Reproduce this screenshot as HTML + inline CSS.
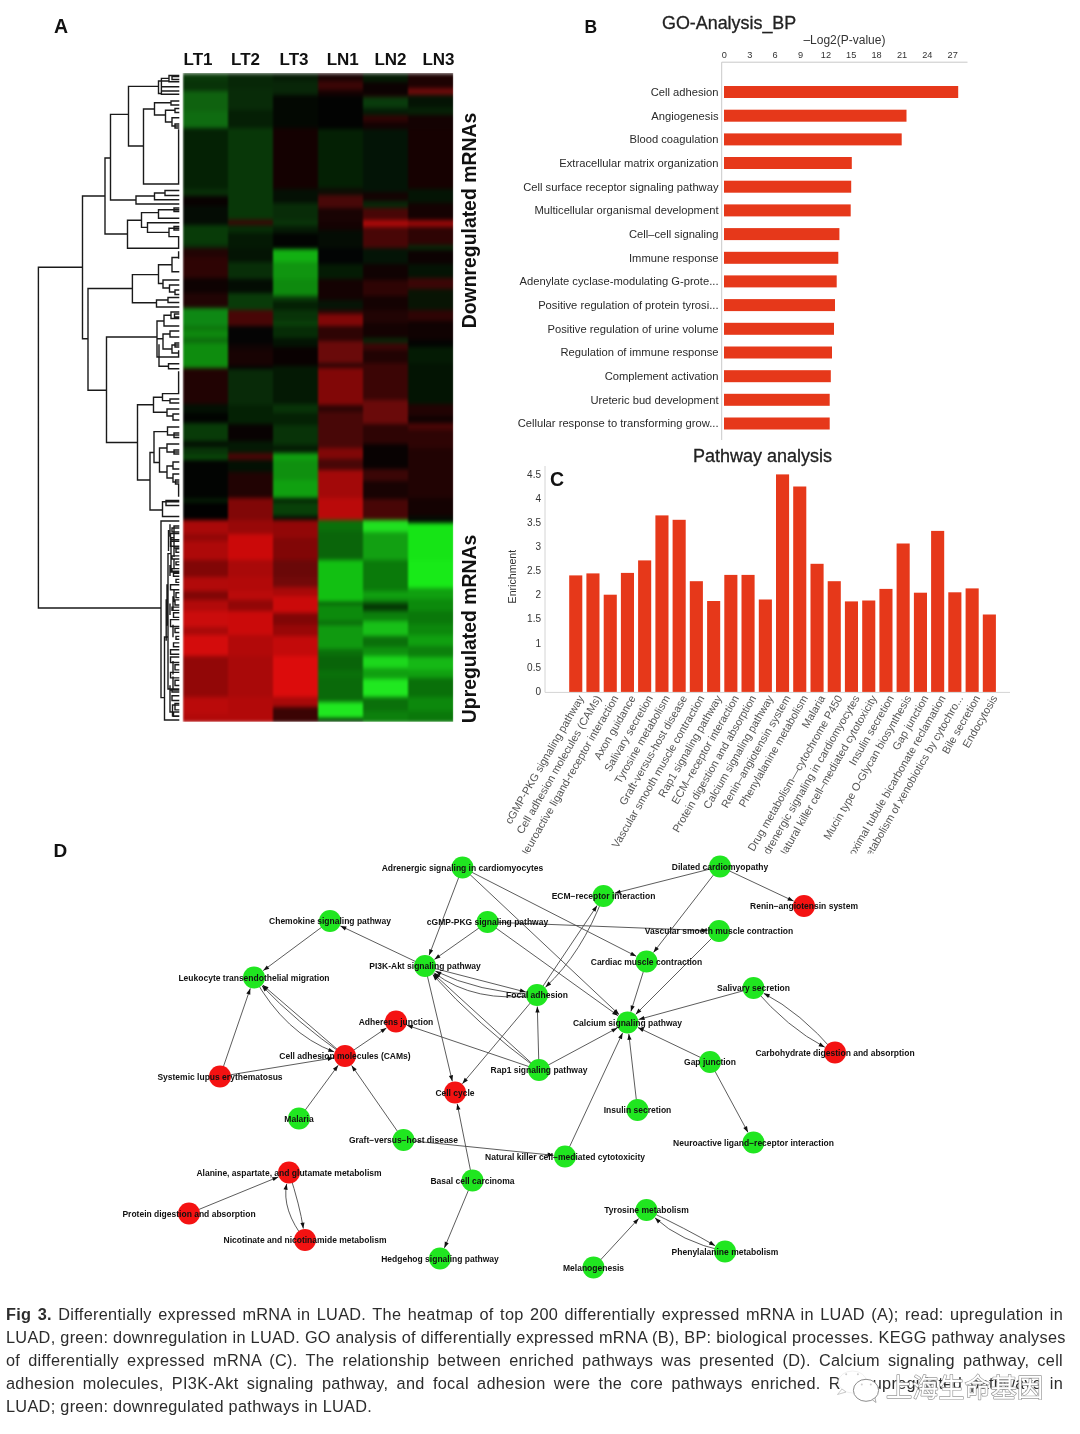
<!DOCTYPE html>
<html><head><meta charset="utf-8"><title>Fig 3</title>
<style>
html,body{margin:0;padding:0;background:#fff}
body{width:1080px;height:1434px;position:relative;overflow:hidden;font-family:"Liberation Sans",sans-serif}
svg{position:absolute;left:0;top:0;display:block}
.cap{position:absolute;left:6px;top:1302.5px;width:1057px;font-size:16.3px;line-height:23.1px;color:#2c2c2c;letter-spacing:0.3px}
.cap div{text-align:justify;text-align-last:justify;white-space:nowrap;height:23.1px}
.cap div.last{text-align:left;text-align-last:left}
.wm{position:absolute;left:898px;top:1373px;font-family:"Liberation Sans","Noto Sans CJK SC",sans-serif;font-size:25px;line-height:30px;color:#fff;letter-spacing:0.5px;white-space:nowrap;
 text-shadow:0 0 1px #777,0 0 1px #777,1px 1px 1px #888,-1px -1px 1px #999}
</style></head><body>
<svg width="1080" height="1434" viewBox="0 0 1080 1434">
<defs><filter id="hb" x="-2%" y="-1%" width="104%" height="102%" color-interpolation-filters="sRGB"><feGaussianBlur stdDeviation="0.8 2.2"/></filter>
<clipPath id="hc"><rect x="182.5" y="73" width="270.7" height="648.7"/></clipPath>
<clipPath id="cc"><rect x="490" y="440" width="590" height="413.5"/></clipPath></defs>
<rect width="1080" height="1434" fill="#fff"/>

<g clip-path="url(#hc)"><g filter="url(#hb)" shape-rendering="crispEdges">
<rect x="182.5" y="73.0" width="45.9" height="7.8" fill="#0a3b0a"/>
<rect x="182.5" y="80.0" width="45.9" height="11.3" fill="#083308"/>
<rect x="182.5" y="90.5" width="45.9" height="21.3" fill="#0f620f"/>
<rect x="182.5" y="111.0" width="45.9" height="17.8" fill="#0f6c11"/>
<rect x="182.5" y="128.0" width="45.9" height="61.8" fill="#042104"/>
<rect x="182.5" y="189.0" width="45.9" height="7.8" fill="#082e08"/>
<rect x="182.5" y="196.0" width="45.9" height="10.3" fill="#080101"/>
<rect x="182.5" y="205.5" width="45.9" height="20.3" fill="#040c04"/>
<rect x="182.5" y="225.0" width="45.9" height="19.8" fill="#083b08"/>
<rect x="182.5" y="244.0" width="45.9" height="4.8" fill="#082e08"/>
<rect x="182.5" y="248.0" width="45.9" height="9.8" fill="#210404"/>
<rect x="182.5" y="257.0" width="45.9" height="21.3" fill="#2e0404"/>
<rect x="182.5" y="277.5" width="45.9" height="16.3" fill="#0e0202"/>
<rect x="182.5" y="293.0" width="45.9" height="15.8" fill="#210404"/>
<rect x="182.5" y="308.0" width="45.9" height="18.8" fill="#0e8814"/>
<rect x="182.5" y="326.0" width="45.9" height="4.8" fill="#0c740c"/>
<rect x="182.5" y="330.0" width="45.9" height="8.8" fill="#0e880e"/>
<rect x="182.5" y="338.0" width="45.9" height="5.3" fill="#0c6c0c"/>
<rect x="182.5" y="342.5" width="45.9" height="25.8" fill="#0e8c0e"/>
<rect x="182.5" y="367.5" width="45.9" height="36.8" fill="#210303"/>
<rect x="182.5" y="403.5" width="45.9" height="10.3" fill="#031003"/>
<rect x="182.5" y="413.0" width="45.9" height="10.8" fill="#010301"/>
<rect x="182.5" y="423.0" width="45.9" height="18.8" fill="#083b08"/>
<rect x="182.5" y="441.0" width="45.9" height="6.3" fill="#031003"/>
<rect x="182.5" y="446.5" width="45.9" height="9.3" fill="#083308"/>
<rect x="182.5" y="455.0" width="45.9" height="5.8" fill="#094809"/>
<rect x="182.5" y="460.0" width="45.9" height="39.8" fill="#020402"/>
<rect x="182.5" y="499.0" width="45.9" height="3.8" fill="#062606"/>
<rect x="182.5" y="502.0" width="45.9" height="18.3" fill="#010101"/>
<rect x="182.5" y="519.5" width="45.9" height="14.8" fill="#a90909"/>
<rect x="182.5" y="533.5" width="45.9" height="7.8" fill="#920707"/>
<rect x="182.5" y="540.5" width="45.9" height="20.3" fill="#ae0909"/>
<rect x="182.5" y="560.0" width="45.9" height="17.3" fill="#810606"/>
<rect x="182.5" y="576.5" width="45.9" height="14.8" fill="#b20a0a"/>
<rect x="182.5" y="590.5" width="45.9" height="10.3" fill="#810606"/>
<rect x="182.5" y="600.0" width="45.9" height="11.8" fill="#b20a0a"/>
<rect x="182.5" y="611.0" width="45.9" height="16.3" fill="#cb0c0c"/>
<rect x="182.5" y="626.5" width="45.9" height="8.8" fill="#a90909"/>
<rect x="182.5" y="634.5" width="45.9" height="21.8" fill="#d40c0c"/>
<rect x="182.5" y="655.5" width="45.9" height="42.3" fill="#920707"/>
<rect x="182.5" y="697.0" width="45.9" height="17.8" fill="#ba0a0a"/>
<rect x="182.5" y="714.0" width="45.9" height="8.5" fill="#b20909"/>
<rect x="227.6" y="73.0" width="45.9" height="15.8" fill="#072707"/>
<rect x="227.6" y="88.0" width="45.9" height="22.8" fill="#082b08"/>
<rect x="227.6" y="110.0" width="45.9" height="18.8" fill="#051f05"/>
<rect x="227.6" y="128.0" width="45.9" height="91.8" fill="#083708"/>
<rect x="227.6" y="219.0" width="45.9" height="2.8" fill="#211906"/>
<rect x="227.6" y="221.0" width="45.9" height="4.8" fill="#3b0606"/>
<rect x="227.6" y="225.0" width="45.9" height="8.8" fill="#062c06"/>
<rect x="227.6" y="233.0" width="45.9" height="15.8" fill="#041904"/>
<rect x="227.6" y="248.0" width="45.9" height="14.8" fill="#041404"/>
<rect x="227.6" y="262.0" width="45.9" height="17.8" fill="#082e08"/>
<rect x="227.6" y="279.0" width="45.9" height="14.8" fill="#030c03"/>
<rect x="227.6" y="293.0" width="45.9" height="17.3" fill="#093b09"/>
<rect x="227.6" y="309.5" width="45.9" height="17.3" fill="#480606"/>
<rect x="227.6" y="326.0" width="45.9" height="18.8" fill="#040404"/>
<rect x="227.6" y="344.0" width="45.9" height="6.3" fill="#100404"/>
<rect x="227.6" y="349.5" width="45.9" height="17.3" fill="#180303"/>
<rect x="227.6" y="366.0" width="45.9" height="3.8" fill="#020202"/>
<rect x="227.6" y="369.0" width="45.9" height="36.8" fill="#082a08"/>
<rect x="227.6" y="405.0" width="45.9" height="19.8" fill="#042104"/>
<rect x="227.6" y="424.0" width="45.9" height="17.8" fill="#080202"/>
<rect x="227.6" y="441.0" width="45.9" height="12.8" fill="#041904"/>
<rect x="227.6" y="453.0" width="45.9" height="7.8" fill="#480606"/>
<rect x="227.6" y="460.0" width="45.9" height="12.3" fill="#031003"/>
<rect x="227.6" y="471.5" width="45.9" height="27.3" fill="#210303"/>
<rect x="227.6" y="498.0" width="45.9" height="22.3" fill="#810707"/>
<rect x="227.6" y="519.5" width="45.9" height="14.8" fill="#980808"/>
<rect x="227.6" y="533.5" width="45.9" height="27.3" fill="#cb0909"/>
<rect x="227.6" y="560.0" width="45.9" height="17.3" fill="#a90909"/>
<rect x="227.6" y="576.5" width="45.9" height="14.8" fill="#b20909"/>
<rect x="227.6" y="590.5" width="45.9" height="10.3" fill="#ba0a0a"/>
<rect x="227.6" y="600.0" width="45.9" height="11.8" fill="#920707"/>
<rect x="227.6" y="611.0" width="45.9" height="24.3" fill="#cb0a0a"/>
<rect x="227.6" y="634.5" width="45.9" height="21.8" fill="#b20909"/>
<rect x="227.6" y="655.5" width="45.9" height="42.3" fill="#a90909"/>
<rect x="227.6" y="697.0" width="45.9" height="25.5" fill="#b20909"/>
<rect x="272.7" y="73.0" width="45.9" height="8.8" fill="#051c05"/>
<rect x="272.7" y="81.0" width="45.9" height="14.8" fill="#082608"/>
<rect x="272.7" y="95.0" width="45.9" height="33.8" fill="#030802"/>
<rect x="272.7" y="128.0" width="45.9" height="61.8" fill="#140101"/>
<rect x="272.7" y="189.0" width="45.9" height="14.8" fill="#041004"/>
<rect x="272.7" y="203.0" width="45.9" height="17.3" fill="#082c08"/>
<rect x="272.7" y="219.5" width="45.9" height="7.3" fill="#093309"/>
<rect x="272.7" y="226.0" width="45.9" height="7.8" fill="#051b05"/>
<rect x="272.7" y="233.0" width="45.9" height="16.3" fill="#020402"/>
<rect x="272.7" y="248.5" width="45.9" height="14.3" fill="#12b012"/>
<rect x="272.7" y="262.0" width="45.9" height="17.8" fill="#109510"/>
<rect x="272.7" y="279.0" width="45.9" height="17.3" fill="#0e8a0e"/>
<rect x="272.7" y="295.5" width="45.9" height="6.3" fill="#083b08"/>
<rect x="272.7" y="301.0" width="45.9" height="9.3" fill="#042004"/>
<rect x="272.7" y="309.5" width="45.9" height="11.8" fill="#083308"/>
<rect x="272.7" y="320.5" width="45.9" height="6.3" fill="#094009"/>
<rect x="272.7" y="326.0" width="45.9" height="12.8" fill="#062c06"/>
<rect x="272.7" y="338.0" width="45.9" height="9.3" fill="#031303"/>
<rect x="272.7" y="346.5" width="45.9" height="20.3" fill="#090101"/>
<rect x="272.7" y="366.0" width="45.9" height="38.3" fill="#041904"/>
<rect x="272.7" y="403.5" width="45.9" height="10.3" fill="#083308"/>
<rect x="272.7" y="413.0" width="45.9" height="12.3" fill="#042104"/>
<rect x="272.7" y="424.5" width="45.9" height="21.3" fill="#083308"/>
<rect x="272.7" y="445.0" width="45.9" height="8.8" fill="#041d04"/>
<rect x="272.7" y="453.0" width="45.9" height="7.8" fill="#10a010"/>
<rect x="272.7" y="460.0" width="45.9" height="20.8" fill="#0f900f"/>
<rect x="272.7" y="480.0" width="45.9" height="18.8" fill="#10a010"/>
<rect x="272.7" y="498.0" width="45.9" height="4.8" fill="#042004"/>
<rect x="272.7" y="502.0" width="45.9" height="14.8" fill="#084008"/>
<rect x="272.7" y="516.0" width="45.9" height="4.3" fill="#030c03"/>
<rect x="272.7" y="519.5" width="45.9" height="19.3" fill="#920707"/>
<rect x="272.7" y="538.0" width="45.9" height="22.8" fill="#810606"/>
<rect x="272.7" y="560.0" width="45.9" height="17.3" fill="#6a0808"/>
<rect x="272.7" y="576.5" width="45.9" height="10.8" fill="#720909"/>
<rect x="272.7" y="586.5" width="45.9" height="10.3" fill="#a90909"/>
<rect x="272.7" y="596.0" width="45.9" height="17.3" fill="#cb0a0a"/>
<rect x="272.7" y="612.5" width="45.9" height="13.3" fill="#810606"/>
<rect x="272.7" y="625.0" width="45.9" height="11.8" fill="#980707"/>
<rect x="272.7" y="636.0" width="45.9" height="20.3" fill="#c30a0a"/>
<rect x="272.7" y="655.5" width="45.9" height="42.3" fill="#dc0c0c"/>
<rect x="272.7" y="697.0" width="45.9" height="10.8" fill="#a90909"/>
<rect x="272.7" y="707.0" width="45.9" height="15.5" fill="#3b0404"/>
<rect x="317.9" y="73.0" width="45.9" height="8.8" fill="#190303"/>
<rect x="317.9" y="81.0" width="45.9" height="9.8" fill="#3b0606"/>
<rect x="317.9" y="90.0" width="45.9" height="6.8" fill="#140202"/>
<rect x="317.9" y="96.0" width="45.9" height="33.8" fill="#020302"/>
<rect x="317.9" y="129.0" width="45.9" height="59.3" fill="#042004"/>
<rect x="317.9" y="187.5" width="45.9" height="7.8" fill="#0c0c04"/>
<rect x="317.9" y="194.5" width="45.9" height="14.3" fill="#480808"/>
<rect x="317.9" y="208.0" width="45.9" height="14.8" fill="#190303"/>
<rect x="317.9" y="222.0" width="45.9" height="8.8" fill="#140202"/>
<rect x="317.9" y="230.0" width="45.9" height="18.8" fill="#040c04"/>
<rect x="317.9" y="248.0" width="45.9" height="16.3" fill="#020404"/>
<rect x="317.9" y="263.5" width="45.9" height="16.3" fill="#041b04"/>
<rect x="317.9" y="279.0" width="45.9" height="21.8" fill="#140202"/>
<rect x="317.9" y="300.0" width="45.9" height="10.3" fill="#061406"/>
<rect x="317.9" y="309.5" width="45.9" height="4.8" fill="#2e0404"/>
<rect x="317.9" y="313.5" width="45.9" height="13.3" fill="#810707"/>
<rect x="317.9" y="326.0" width="45.9" height="15.8" fill="#2e0404"/>
<rect x="317.9" y="341.0" width="45.9" height="22.8" fill="#6a0a0a"/>
<rect x="317.9" y="363.0" width="45.9" height="5.3" fill="#2e0404"/>
<rect x="317.9" y="367.5" width="45.9" height="38.3" fill="#810707"/>
<rect x="317.9" y="405.0" width="45.9" height="7.8" fill="#2e0404"/>
<rect x="317.9" y="412.0" width="45.9" height="36.8" fill="#480707"/>
<rect x="317.9" y="448.0" width="45.9" height="11.8" fill="#810707"/>
<rect x="317.9" y="459.0" width="45.9" height="11.8" fill="#480707"/>
<rect x="317.9" y="470.0" width="45.9" height="28.8" fill="#a30909"/>
<rect x="317.9" y="498.0" width="45.9" height="22.3" fill="#ba0a0a"/>
<rect x="317.9" y="519.5" width="45.9" height="12.3" fill="#0a700a"/>
<rect x="317.9" y="531.0" width="45.9" height="29.8" fill="#0a650a"/>
<rect x="317.9" y="560.0" width="45.9" height="42.3" fill="#12c012"/>
<rect x="317.9" y="601.5" width="45.9" height="3.3" fill="#043b04"/>
<rect x="317.9" y="604.0" width="45.9" height="17.8" fill="#0c8a0c"/>
<rect x="317.9" y="621.0" width="45.9" height="4.8" fill="#0a6a0a"/>
<rect x="317.9" y="625.0" width="45.9" height="24.3" fill="#109a10"/>
<rect x="317.9" y="648.5" width="45.9" height="7.8" fill="#0a700a"/>
<rect x="317.9" y="655.5" width="45.9" height="14.8" fill="#096409"/>
<rect x="317.9" y="669.5" width="45.9" height="9.3" fill="#0a700a"/>
<rect x="317.9" y="678.0" width="45.9" height="19.8" fill="#0a6a0a"/>
<rect x="317.9" y="697.0" width="45.9" height="5.3" fill="#0a6a0a"/>
<rect x="317.9" y="701.5" width="45.9" height="17.3" fill="#20e820"/>
<rect x="317.9" y="718.0" width="45.9" height="4.5" fill="#084008"/>
<rect x="363.0" y="73.0" width="45.9" height="9.8" fill="#041b04"/>
<rect x="363.0" y="82.0" width="45.9" height="13.8" fill="#0c0202"/>
<rect x="363.0" y="95.0" width="45.9" height="2.8" fill="#210404"/>
<rect x="363.0" y="97.0" width="45.9" height="11.8" fill="#093b0c"/>
<rect x="363.0" y="108.0" width="45.9" height="7.8" fill="#041c06"/>
<rect x="363.0" y="115.0" width="45.9" height="7.8" fill="#2e0404"/>
<rect x="363.0" y="122.0" width="45.9" height="7.8" fill="#140202"/>
<rect x="363.0" y="129.0" width="45.9" height="63.8" fill="#031406"/>
<rect x="363.0" y="192.0" width="45.9" height="9.8" fill="#140303"/>
<rect x="363.0" y="201.0" width="45.9" height="7.8" fill="#082608"/>
<rect x="363.0" y="208.0" width="45.9" height="12.3" fill="#480606"/>
<rect x="363.0" y="219.5" width="45.9" height="7.8" fill="#a90909"/>
<rect x="363.0" y="226.5" width="45.9" height="18.8" fill="#480606"/>
<rect x="363.0" y="244.5" width="45.9" height="4.3" fill="#480606"/>
<rect x="363.0" y="248.0" width="45.9" height="16.3" fill="#041406"/>
<rect x="363.0" y="263.5" width="45.9" height="17.3" fill="#100202"/>
<rect x="363.0" y="280.0" width="45.9" height="16.3" fill="#2e0404"/>
<rect x="363.0" y="295.5" width="45.9" height="14.8" fill="#140202"/>
<rect x="363.0" y="309.5" width="45.9" height="14.3" fill="#210404"/>
<rect x="363.0" y="323.0" width="45.9" height="15.8" fill="#140202"/>
<rect x="363.0" y="338.0" width="45.9" height="5.3" fill="#082608"/>
<rect x="363.0" y="342.5" width="45.9" height="7.8" fill="#3b0606"/>
<rect x="363.0" y="349.5" width="45.9" height="14.3" fill="#210303"/>
<rect x="363.0" y="363.0" width="45.9" height="37.3" fill="#3b0505"/>
<rect x="363.0" y="399.5" width="45.9" height="25.3" fill="#6a0a0a"/>
<rect x="363.0" y="424.0" width="45.9" height="20.3" fill="#2e0404"/>
<rect x="363.0" y="443.5" width="45.9" height="25.8" fill="#080202"/>
<rect x="363.0" y="468.5" width="45.9" height="13.3" fill="#3b0606"/>
<rect x="363.0" y="481.0" width="45.9" height="18.8" fill="#180303"/>
<rect x="363.0" y="499.0" width="45.9" height="21.3" fill="#480606"/>
<rect x="363.0" y="519.5" width="45.9" height="13.3" fill="#20e020"/>
<rect x="363.0" y="532.0" width="45.9" height="28.8" fill="#12a012"/>
<rect x="363.0" y="560.0" width="45.9" height="31.3" fill="#0a7a0a"/>
<rect x="363.0" y="590.5" width="45.9" height="9.3" fill="#10a010"/>
<rect x="363.0" y="599.0" width="45.9" height="4.8" fill="#0c800c"/>
<rect x="363.0" y="603.0" width="45.9" height="8.8" fill="#043904"/>
<rect x="363.0" y="611.0" width="45.9" height="10.8" fill="#0c800c"/>
<rect x="363.0" y="621.0" width="45.9" height="15.8" fill="#18c018"/>
<rect x="363.0" y="636.0" width="45.9" height="11.8" fill="#0a700a"/>
<rect x="363.0" y="647.0" width="45.9" height="9.3" fill="#0e900e"/>
<rect x="363.0" y="655.5" width="45.9" height="13.3" fill="#1cd81c"/>
<rect x="363.0" y="668.0" width="45.9" height="11.8" fill="#10a010"/>
<rect x="363.0" y="679.0" width="45.9" height="18.8" fill="#20e820"/>
<rect x="363.0" y="697.0" width="45.9" height="14.8" fill="#0a700a"/>
<rect x="363.0" y="711.0" width="45.9" height="11.5" fill="#0c800c"/>
<rect x="408.1" y="73.0" width="45.9" height="15.8" fill="#1d0202"/>
<rect x="408.1" y="88.0" width="45.9" height="7.8" fill="#6a0a0a"/>
<rect x="408.1" y="95.0" width="45.9" height="12.8" fill="#041304"/>
<rect x="408.1" y="107.0" width="45.9" height="8.8" fill="#062006"/>
<rect x="408.1" y="115.0" width="45.9" height="14.8" fill="#140202"/>
<rect x="408.1" y="129.0" width="45.9" height="60.8" fill="#160101"/>
<rect x="408.1" y="189.0" width="45.9" height="14.8" fill="#041404"/>
<rect x="408.1" y="203.0" width="45.9" height="17.3" fill="#140202"/>
<rect x="408.1" y="219.5" width="45.9" height="7.8" fill="#920808"/>
<rect x="408.1" y="226.5" width="45.9" height="18.8" fill="#2e0404"/>
<rect x="408.1" y="244.5" width="45.9" height="6.3" fill="#082608"/>
<rect x="408.1" y="250.0" width="45.9" height="14.3" fill="#0c0202"/>
<rect x="408.1" y="263.5" width="45.9" height="14.8" fill="#041304"/>
<rect x="408.1" y="277.5" width="45.9" height="11.8" fill="#3b0606"/>
<rect x="408.1" y="288.5" width="45.9" height="21.8" fill="#081404"/>
<rect x="408.1" y="309.5" width="45.9" height="11.8" fill="#2e0404"/>
<rect x="408.1" y="320.5" width="45.9" height="19.8" fill="#100202"/>
<rect x="408.1" y="339.5" width="45.9" height="7.8" fill="#020402"/>
<rect x="408.1" y="346.5" width="45.9" height="17.3" fill="#041b04"/>
<rect x="408.1" y="363.0" width="45.9" height="41.3" fill="#031403"/>
<rect x="408.1" y="403.5" width="45.9" height="13.3" fill="#210303"/>
<rect x="408.1" y="416.0" width="45.9" height="7.8" fill="#100202"/>
<rect x="408.1" y="423.0" width="45.9" height="7.8" fill="#480606"/>
<rect x="408.1" y="430.0" width="45.9" height="18.8" fill="#2e0404"/>
<rect x="408.1" y="448.0" width="45.9" height="50.8" fill="#210303"/>
<rect x="408.1" y="498.0" width="45.9" height="18.8" fill="#140202"/>
<rect x="408.1" y="516.0" width="45.9" height="7.3" fill="#040c04"/>
<rect x="408.1" y="522.5" width="45.9" height="38.3" fill="#16e416"/>
<rect x="408.1" y="560.0" width="45.9" height="28.8" fill="#18ea18"/>
<rect x="408.1" y="588.0" width="45.9" height="11.8" fill="#10a010"/>
<rect x="408.1" y="599.0" width="45.9" height="12.8" fill="#0c8a0c"/>
<rect x="408.1" y="611.0" width="45.9" height="13.3" fill="#0a780a"/>
<rect x="408.1" y="623.5" width="45.9" height="11.8" fill="#0c880c"/>
<rect x="408.1" y="634.5" width="45.9" height="12.3" fill="#10a010"/>
<rect x="408.1" y="646.0" width="45.9" height="11.8" fill="#0c800c"/>
<rect x="408.1" y="657.0" width="45.9" height="13.3" fill="#15b815"/>
<rect x="408.1" y="669.5" width="45.9" height="9.3" fill="#10a010"/>
<rect x="408.1" y="678.0" width="45.9" height="19.8" fill="#097009"/>
<rect x="408.1" y="697.0" width="45.9" height="14.8" fill="#0c880c"/>
<rect x="408.1" y="711.0" width="45.9" height="11.5" fill="#0a780a"/>
</g></g>
<path d="M38.4 267.2L38.4 608.0 M38.4 267.2L82.5 267.2 M38.4 608.0L161.0 608.0 M82.5 196.0L82.5 338.7 M82.5 196.0L105.0 196.0 M82.5 338.7L88.0 338.7 M105.0 158.0L105.0 234.0 M105.0 158.0L110.5 158.0 M105.0 234.0L127.5 234.0 M110.5 114.4L110.5 200.0 M110.5 114.4L128.5 114.4 M110.5 200.0L136.0 200.0 M128.5 86.4L128.5 146.0 M128.5 86.4L158.5 86.4 M128.5 146.0L143.5 146.0 M143.5 109.0L143.5 184.0 M143.5 109.0L154.5 109.0 M143.5 184.0L178.6 184.0 M178.6 130.0L178.6 184.0 M154.5 102.7L154.5 115.0 M154.5 102.7L171.0 102.7 M154.5 115.0L165.5 115.0 M171.0 101.0L171.0 105.0 M171.0 101.0L178.6 101.0 M171.0 105.0L178.6 105.0 M165.5 110.2L165.5 122.0 M165.5 110.2L175.0 110.2 M165.5 122.0L172.0 122.0 M175.0 108.5L175.0 112.5 M175.0 108.5L178.6 108.5 M175.0 112.5L178.6 112.5 M172.0 117.7L172.0 126.0 M172.0 117.7L178.6 117.7 M172.0 126.0L178.6 126.0 M175.0 124.0L175.0 128.0 M175.0 124.0L178.6 124.0 M175.0 128.0L178.6 128.0 M158.5 81.0L158.5 93.5 M158.5 81.0L169.0 81.0 M158.5 93.5L161.4 93.5 M169.0 75.5L169.0 81.8 M169.0 75.5L178.6 75.5 M169.0 81.8L178.6 81.8 M161.4 78.4L161.4 94.3 M161.4 78.4L169.0 78.4 M161.4 86.8L178.6 86.8 M161.4 91.0L178.6 91.0 M161.4 94.3L178.6 94.3 M172.0 76.5L172.0 79.5 M172.0 76.5L178.6 76.5 M172.0 79.5L178.6 79.5 M136.0 196.0L136.0 204.0 M136.0 196.0L154.5 196.0 M136.0 204.0L178.6 204.0 M154.5 193.0L154.5 199.7 M154.5 193.0L165.0 193.0 M154.5 199.7L178.6 199.7 M165.0 190.5L165.0 195.5 M165.0 190.5L178.6 190.5 M165.0 195.5L178.6 195.5 M127.5 220.3L127.5 248.3 M127.5 220.3L141.5 220.3 M127.5 248.3L178.6 248.3 M141.5 212.6L141.5 227.4 M141.5 212.6L158.5 212.6 M141.5 227.4L147.5 227.4 M158.5 209.8L158.5 218.2 M158.5 209.8L178.6 209.8 M158.5 218.2L178.6 218.2 M174.0 208.0L174.0 211.5 M174.0 208.0L178.6 208.0 M174.0 211.5L178.6 211.5 M147.5 222.7L147.5 232.4 M147.5 222.7L178.6 222.7 M147.5 232.4L169.0 232.4 M169.0 228.2L169.0 236.6 M169.0 228.2L178.6 228.2 M169.0 236.6L178.6 236.6 M174.0 226.5L174.0 230.0 M174.0 226.5L178.6 226.5 M174.0 230.0L178.6 230.0 M178.6 238.0L178.6 248.3 M88.0 288.5L88.0 390.3 M88.0 288.5L132.4 288.5 M88.0 390.3L106.5 390.3 M132.4 274.6L132.4 302.7 M132.4 274.6L158.5 274.6 M132.4 302.7L156.5 302.7 M158.5 264.7L158.5 283.5 M158.5 264.7L172.0 264.7 M158.5 283.5L163.0 283.5 M172.0 257.5L172.0 271.8 M172.0 257.5L178.6 257.5 M172.0 271.8L178.6 271.8 M178.6 252.0L178.6 258.0 M163.0 280.0L163.0 288.0 M163.0 280.0L178.6 280.0 M163.0 288.0L169.5 288.0 M169.5 285.0L169.5 292.0 M169.5 285.0L178.6 285.0 M169.5 292.0L175.0 292.0 M175.0 290.0L175.0 294.5 M175.0 290.0L178.6 290.0 M175.0 294.5L178.6 294.5 M156.5 300.0L156.5 307.0 M156.5 300.0L168.0 300.0 M156.5 307.0L178.6 307.0 M168.0 297.5L168.0 302.5 M168.0 297.5L178.6 297.5 M168.0 302.5L178.6 302.5 M106.5 337.0L106.5 442.5 M106.5 337.0L157.0 337.0 M106.5 442.5L137.5 442.5 M157.0 321.0L157.0 357.0 M159.0 345.0L159.0 366.3 M159.0 366.3L168.5 366.3 M168.5 363.8L168.5 368.8 M168.5 363.8L178.6 363.8 M168.5 368.8L178.6 368.8 M157.0 321.0L164.0 321.0 M164.0 315.3L164.0 326.0 M164.0 315.3L171.0 315.3 M164.0 326.0L178.6 326.0 M171.0 312.0L171.0 318.5 M171.0 312.0L178.6 312.0 M171.0 318.5L178.6 318.5 M174.5 314.0L174.5 317.0 M174.5 314.0L178.6 314.0 M174.5 317.0L178.6 317.0 M157.0 338.7L163.0 338.7 M163.0 334.0L163.0 349.0 M163.0 334.0L170.0 334.0 M163.0 349.0L172.0 349.0 M170.0 331.0L170.0 337.0 M170.0 331.0L178.6 331.0 M170.0 337.0L178.6 337.0 M172.0 345.0L172.0 353.0 M172.0 345.0L178.6 345.0 M172.0 353.0L178.6 353.0 M175.0 343.0L175.0 347.0 M175.0 343.0L178.6 343.0 M175.0 347.0L178.6 347.0 M157.0 357.0L178.6 357.0 M178.6 351.0L178.6 357.0 M178.6 372.0L178.6 393.6 M137.5 404.8L137.5 480.0 M137.5 404.8L153.5 404.8 M137.5 480.0L150.0 480.0 M153.5 397.3L153.5 412.3 M153.5 397.3L162.5 397.3 M153.5 412.3L167.0 412.3 M162.5 393.6L162.5 400.6 M162.5 393.6L178.6 393.6 M162.5 400.6L170.0 400.6 M170.0 399.0L170.0 403.0 M170.0 399.0L178.6 399.0 M170.0 403.0L178.6 403.0 M167.0 409.0L167.0 416.0 M167.0 409.0L178.6 409.0 M167.0 416.0L173.0 416.0 M173.0 414.0L173.0 420.0 M173.0 414.0L178.6 414.0 M173.0 420.0L178.6 420.0 M150.0 452.5L150.0 510.0 M150.0 452.5L154.0 452.5 M150.0 510.0L162.5 510.0 M154.0 431.6L154.0 462.5 M154.0 431.6L167.5 431.6 M154.0 462.5L159.5 462.5 M167.5 427.0L167.5 435.0 M167.5 427.0L178.6 427.0 M167.5 435.0L178.6 435.0 M174.0 433.0L174.0 437.5 M174.0 433.0L178.6 433.0 M174.0 437.5L178.6 437.5 M159.5 448.0L159.5 472.0 M159.5 448.0L167.0 448.0 M159.5 472.0L167.0 472.0 M167.0 444.0L167.0 452.0 M167.0 444.0L178.6 444.0 M167.0 452.0L178.6 452.0 M174.0 450.0L174.0 454.0 M174.0 450.0L178.6 450.0 M174.0 454.0L178.6 454.0 M167.0 466.0L167.0 478.0 M167.0 466.0L173.0 466.0 M167.0 478.0L173.0 478.0 M173.0 462.0L173.0 469.0 M173.0 462.0L178.6 462.0 M173.0 469.0L178.6 469.0 M173.0 474.0L173.0 482.0 M173.0 474.0L178.6 474.0 M173.0 482.0L178.6 482.0 M175.5 480.0L175.5 484.0 M175.5 480.0L178.6 480.0 M175.5 484.0L178.6 484.0 M162.5 501.8L162.5 516.5 M162.5 501.8L178.6 501.8 M162.5 516.5L178.6 516.5 M166.0 500.5L166.0 505.5 M166.0 500.5L178.6 500.5 M166.0 505.5L178.6 505.5 M178.6 484.0L178.6 496.0 M161.0 521.0L161.0 697.6 M161.0 521.0L178.6 521.0 M161.0 697.6L164.5 697.6 M164.5 637.0L164.5 720.0 M164.5 720.0L178.6 720.0 M164.5 637.0L168.0 637.0 M168.0 553.6L168.0 689.0 M168.0 553.6L171.0 553.6 M168.0 689.0L172.0 689.0 M171.0 537.7L171.0 572.0 M171.0 572.0L178.6 572.0 M171.0 537.7L174.0 537.7 M174.0 526.0L174.0 548.0 M174.0 526.0L178.6 526.0 M174.0 548.0L178.6 548.0 M167.0 585.0L167.0 625.0 M166.2 600.0L166.2 640.0 M172.0 528.0L172.0 532.0 M172.0 528.0L178.6 528.0 M172.0 532.0L178.6 532.0 M170.0 525.0L170.0 536.0 M170.5 533.6L170.5 539.8 M170.5 533.6L178.6 533.6 M170.5 539.8L178.6 539.8 M168.5 530.6L168.5 543.8 M170.5 541.4L170.5 546.2 M170.5 541.4L178.6 541.4 M170.5 546.2L178.6 546.2 M168.5 538.4L168.5 550.2 M176.0 548.7L176.0 552.3 M176.0 548.7L178.6 548.7 M176.0 552.3L178.6 552.3 M174.0 545.7L174.0 556.3 M172.0 555.9L172.0 559.0 M172.0 555.9L178.6 555.9 M172.0 559.0L178.6 559.0 M176.0 561.9L176.0 564.7 M176.0 561.9L178.6 561.9 M176.0 564.7L178.6 564.7 M174.0 558.9L174.0 568.7 M172.0 568.6L172.0 571.3 M172.0 568.6L178.6 568.6 M172.0 571.3L178.6 571.3 M170.0 565.6L170.0 575.3 M173.5 573.2L173.5 576.2 M173.5 573.2L178.6 573.2 M173.5 576.2L178.6 576.2 M176.0 579.4L176.0 582.4 M176.0 579.4L178.6 579.4 M176.0 582.4L178.6 582.4 M170.5 584.8L170.5 589.8 M170.5 584.8L178.6 584.8 M170.5 589.8L178.6 589.8 M176.0 592.8L176.0 597.6 M176.0 592.8L178.6 592.8 M176.0 597.6L178.6 597.6 M174.0 589.8L174.0 601.6 M175.0 599.9L175.0 605.0 M175.0 599.9L178.6 599.9 M175.0 605.0L178.6 605.0 M173.0 596.9L173.0 609.0 M172.0 607.1L172.0 610.4 M172.0 607.1L178.6 607.1 M172.0 610.4L178.6 610.4 M170.0 604.1L170.0 614.4 M173.5 612.7L173.5 617.4 M173.5 612.7L178.6 612.7 M173.5 617.4L178.6 617.4 M170.5 619.6L170.5 626.5 M170.5 619.6L178.6 619.6 M170.5 626.5L178.6 626.5 M175.0 628.4L175.0 632.5 M175.0 628.4L178.6 628.4 M175.0 632.5L178.6 632.5 M173.0 625.4L173.0 636.5 M176.0 636.4L176.0 639.2 M176.0 636.4L178.6 636.4 M176.0 639.2L178.6 639.2 M173.5 642.9L173.5 646.8 M173.5 642.9L178.6 642.9 M173.5 646.8L178.6 646.8 M170.5 649.8L170.5 654.3 M170.5 649.8L178.6 649.8 M170.5 654.3L178.6 654.3 M170.5 657.0L170.5 662.5 M170.5 657.0L178.6 657.0 M170.5 662.5L178.6 662.5 M175.0 664.8L175.0 669.9 M175.0 664.8L178.6 664.8 M175.0 669.9L178.6 669.9 M173.0 661.8L173.0 673.9 M170.5 672.4L170.5 677.9 M170.5 672.4L178.6 672.4 M170.5 677.9L178.6 677.9 M175.0 680.3L175.0 685.5 M175.0 680.3L178.6 680.3 M175.0 685.5L178.6 685.5 M173.0 677.3L173.0 689.5 M172.0 688.9L172.0 692.0 M172.0 688.9L178.6 688.9 M172.0 692.0L178.6 692.0 M170.0 685.9L170.0 696.0 M172.0 695.8L172.0 700.5 M172.0 695.8L178.6 695.8 M172.0 700.5L178.6 700.5 M170.0 692.8L170.0 704.5 M175.0 703.4L175.0 709.9 M175.0 703.4L178.6 703.4 M175.0 709.9L178.6 709.9 M173.5 712.1L173.5 716.4 M173.5 712.1L178.6 712.1 M173.5 716.4L178.6 716.4 M170.0 690.0L170.0 712.0 M170.0 690.0L178.6 690.0 M170.0 712.0L178.6 712.0 M172.5 705.0L172.5 716.0 M172.5 705.0L178.6 705.0 M172.5 716.0L178.6 716.0" stroke="#1a1a1a" stroke-width="1.4" fill="none" stroke-linecap="square"/>
<g font-family="'Liberation Sans',sans-serif" font-weight="700" fill="#111">
<text x="54" y="33" font-size="19.5">A</text>
<text x="198.0" y="65" font-size="17" text-anchor="middle">LT1</text>
<text x="245.5" y="65" font-size="17" text-anchor="middle">LT2</text>
<text x="294.0" y="65" font-size="17" text-anchor="middle">LT3</text>
<text x="342.7" y="65" font-size="17" text-anchor="middle">LN1</text>
<text x="390.5" y="65" font-size="17" text-anchor="middle">LN2</text>
<text x="438.5" y="65" font-size="17" text-anchor="middle">LN3</text>
<text transform="translate(475.5 328.3) rotate(-90)" font-size="19.4">Downregulated mRNAs</text>
<text transform="translate(475.5 723.2) rotate(-90)" font-size="19.4">Upregulated mRNAs</text>
</g>
<g font-family="'Liberation Sans',sans-serif" fill="#222">
<text x="584.5" y="33" font-size="17.5" font-weight="700" fill="#111">B</text>
<text x="662" y="29.2" font-size="17.9" stroke="#222" stroke-width="0.3">GO-Analysis_BP</text>
<text x="803.4" y="43.5" font-size="12" fill="#333">–Log2(P-value)</text>
<g font-size="9.2" text-anchor="middle" fill="#333">
<text x="724.4" y="58.3">0</text>
<text x="749.8" y="58.3">3</text>
<text x="775.1" y="58.3">6</text>
<text x="800.5" y="58.3">9</text>
<text x="825.9" y="58.3">12</text>
<text x="851.2" y="58.3">15</text>
<text x="876.6" y="58.3">18</text>
<text x="902.0" y="58.3">21</text>
<text x="927.3" y="58.3">24</text>
<text x="952.7" y="58.3">27</text>
</g>
<path d="M721.7 62.2H967.5M721.7 62.2V440" stroke="#c9c9c9" stroke-width="1" fill="none"/>
<g font-size="11.2" text-anchor="end" fill="#2a2a2a">
<rect x="724" y="86.0" width="234.2" height="12" fill="#e6381a"/>
<text x="718.5" y="95.8">Cell adhesion</text>
<rect x="724" y="109.7" width="182.5" height="12" fill="#e6381a"/>
<text x="718.5" y="119.5">Angiogenesis</text>
<rect x="724" y="133.4" width="177.7" height="12" fill="#e6381a"/>
<text x="718.5" y="143.2">Blood coagulation</text>
<rect x="724" y="157.0" width="127.8" height="12" fill="#e6381a"/>
<text x="718.5" y="166.8">Extracellular matrix organization</text>
<rect x="724" y="180.7" width="127.2" height="12" fill="#e6381a"/>
<text x="718.5" y="190.5">Cell surface receptor signaling pathway</text>
<rect x="724" y="204.4" width="126.7" height="12" fill="#e6381a"/>
<text x="718.5" y="214.2">Multicellular organismal development</text>
<rect x="724" y="228.1" width="115.4" height="12" fill="#e6381a"/>
<text x="718.5" y="237.9">Cell–cell signaling</text>
<rect x="724" y="251.8" width="114.3" height="12" fill="#e6381a"/>
<text x="718.5" y="261.6">Immune response</text>
<rect x="724" y="275.4" width="112.7" height="12" fill="#e6381a"/>
<text x="718.5" y="285.2">Adenylate cyclase-modulating G-prote...</text>
<rect x="724" y="299.1" width="111.0" height="12" fill="#e6381a"/>
<text x="718.5" y="308.9">Positive regulation of protein tyrosi...</text>
<rect x="724" y="322.8" width="110.0" height="12" fill="#e6381a"/>
<text x="718.5" y="332.6">Positive regulation of urine volume</text>
<rect x="724" y="346.5" width="108.0" height="12" fill="#e6381a"/>
<text x="718.5" y="356.3">Regulation of immune response</text>
<rect x="724" y="370.2" width="106.8" height="12" fill="#e6381a"/>
<text x="718.5" y="380.0">Complement activation</text>
<rect x="724" y="393.8" width="105.7" height="12" fill="#e6381a"/>
<text x="718.5" y="403.6">Ureteric bud development</text>
<rect x="724" y="417.5" width="105.7" height="12" fill="#e6381a"/>
<text x="718.5" y="427.3">Cellular response to transforming grow...</text>
</g>
<text x="693" y="462" font-size="18" stroke="#222" stroke-width="0.3">Pathway analysis</text>
<text x="550" y="486.4" font-size="19.5" font-weight="700" fill="#111">C</text>
<text transform="translate(515.5 576.6) rotate(-90)" font-size="10.6" text-anchor="middle" fill="#333">Enrichment</text>
<g font-size="10" text-anchor="end" fill="#333">
<text x="541" y="694.9">0</text>
<text x="541" y="670.7">0.5</text>
<text x="541" y="646.6">1</text>
<text x="541" y="622.4">1.5</text>
<text x="541" y="598.3">2</text>
<text x="541" y="574.1">2.5</text>
<text x="541" y="550.0">3</text>
<text x="541" y="525.8">3.5</text>
<text x="541" y="501.7">4</text>
<text x="541" y="477.5">4.5</text>
</g>
<path d="M545 466V692.4H1010" stroke="#d4d4d4" stroke-width="1" fill="none"/>
<g clip-path="url(#cc)">
<rect x="569.2" y="575.4" width="13.1" height="116.5" fill="#e6381a"/>
<rect x="586.4" y="573.4" width="13.1" height="118.5" fill="#e6381a"/>
<rect x="603.7" y="594.7" width="13.1" height="97.2" fill="#e6381a"/>
<rect x="620.9" y="572.9" width="13.1" height="119.0" fill="#e6381a"/>
<rect x="638.1" y="560.4" width="13.1" height="131.5" fill="#e6381a"/>
<rect x="655.4" y="515.4" width="13.1" height="176.5" fill="#e6381a"/>
<rect x="672.6" y="519.8" width="13.1" height="172.1" fill="#e6381a"/>
<rect x="689.8" y="581.2" width="13.1" height="110.7" fill="#e6381a"/>
<rect x="707.1" y="601.0" width="13.1" height="90.9" fill="#e6381a"/>
<rect x="724.3" y="574.9" width="13.1" height="117.0" fill="#e6381a"/>
<rect x="741.5" y="574.9" width="13.1" height="117.0" fill="#e6381a"/>
<rect x="758.8" y="599.5" width="13.1" height="92.4" fill="#e6381a"/>
<rect x="776.0" y="474.4" width="13.1" height="217.5" fill="#e6381a"/>
<rect x="793.2" y="486.5" width="13.1" height="205.4" fill="#e6381a"/>
<rect x="810.5" y="563.8" width="13.1" height="128.1" fill="#e6381a"/>
<rect x="827.7" y="581.2" width="13.1" height="110.7" fill="#e6381a"/>
<rect x="844.9" y="601.4" width="13.1" height="90.5" fill="#e6381a"/>
<rect x="862.2" y="600.5" width="13.1" height="91.4" fill="#e6381a"/>
<rect x="879.4" y="588.9" width="13.1" height="103.0" fill="#e6381a"/>
<rect x="896.6" y="543.5" width="13.1" height="148.4" fill="#e6381a"/>
<rect x="913.9" y="592.7" width="13.1" height="99.2" fill="#e6381a"/>
<rect x="931.1" y="530.9" width="13.1" height="161.0" fill="#e6381a"/>
<rect x="948.3" y="592.3" width="13.1" height="99.6" fill="#e6381a"/>
<rect x="965.6" y="588.4" width="13.1" height="103.5" fill="#e6381a"/>
<rect x="982.8" y="614.5" width="13.1" height="77.4" fill="#e6381a"/>
<g font-size="10.9" text-anchor="end" fill="#555">
<text transform="translate(584.2 698) rotate(-60)">cGMP-PKG signaling pathway</text>
<text transform="translate(601.5 698) rotate(-60)">Cell adhesion molecules (CAMs)</text>
<text transform="translate(618.7 698) rotate(-60)">Neuroactive ligand-receptor interaction</text>
<text transform="translate(636.0 698) rotate(-60)">Axon guidance</text>
<text transform="translate(653.2 698) rotate(-60)">Salivary secretion</text>
<text transform="translate(670.4 698) rotate(-60)">Tyrosine metabolism</text>
<text transform="translate(687.6 698) rotate(-60)">Graft-versus-host disease</text>
<text transform="translate(704.9 698) rotate(-60)">Vascular smooth muscle contraction</text>
<text transform="translate(722.1 698) rotate(-60)">Rap1 signaling pathway</text>
<text transform="translate(739.3 698) rotate(-60)">ECM–receptor interaction</text>
<text transform="translate(756.6 698) rotate(-60)">Protein digestion and absorption</text>
<text transform="translate(773.8 698) rotate(-60)">Calcium signaling pathway</text>
<text transform="translate(791.0 698) rotate(-60)">Renin–angiotensin system</text>
<text transform="translate(808.3 698) rotate(-60)">Phenylalanine metabolism</text>
<text transform="translate(825.5 698) rotate(-60)">Malaria</text>
<text transform="translate(842.8 698) rotate(-60)">Drug metabolism—cytochrome P450</text>
<text transform="translate(860.0 698) rotate(-60)">Adrenergic signaling in cardiomyocytes</text>
<text transform="translate(877.2 698) rotate(-60)">Natural killer cell–mediated cytotoxicity</text>
<text transform="translate(894.4 698) rotate(-60)">Insulin secretion</text>
<text transform="translate(911.7 698) rotate(-60)">Mucin type O-Glycan biosynthesis</text>
<text transform="translate(928.9 698) rotate(-60)">Gap junction</text>
<text transform="translate(946.1 698) rotate(-60)">Proximal tubule bicarbonate reclamation</text>
<text transform="translate(963.4 698) rotate(-60)">Metabolism of xenobiotics by cytochro...</text>
<text transform="translate(980.6 698) rotate(-60)">Bile secretion</text>
<text transform="translate(997.8 698) rotate(-60)">Endocytosis</text>
</g></g>
</g>
<text x="53.5" y="856.5" font-family="'Liberation Sans',sans-serif" font-size="19" font-weight="700" fill="#111">D</text>
<g stroke="#4a4a4a" stroke-width="0.9" fill="none">
<path d="M462.5 867.5L429.1 955.3"/>
<path d="M462.5 867.5L636.3 956.3"/>
<path d="M462.5 867.5L619.1 1014.6"/>
<path d="M487.5 922.0L434.4 959.4"/>
<path d="M487.5 922.0L707.5 930.6"/>
<path d="M487.5 922.0L618.2 1015.8"/>
<path d="M425.0 966.0L340.4 925.9"/>
<path d="M330.0 921.0L263.2 970.6"/>
<path d="M254.0 977.5Q285.1 1033.4 334.2 1051.9"/>
<path d="M345.0 1056.0L262.7 985.0"/>
<path d="M345.0 1056.0Q295.6 1021.3 261.9 985.8"/>
<path d="M220.0 1076.5L250.3 988.4"/>
<path d="M220.0 1076.5L333.7 1057.9"/>
<path d="M345.0 1056.0L386.5 1027.9"/>
<path d="M299.0 1118.5L338.2 1065.3"/>
<path d="M403.5 1140.0L351.6 1065.4"/>
<path d="M539.0 1070.0L406.9 1025.2"/>
<path d="M539.0 1070.0L433.5 973.8"/>
<path d="M539.0 1070.0Q476.6 1023.9 432.7 974.6"/>
<path d="M539.0 1070.0L537.3 1006.5"/>
<path d="M539.0 1070.0L617.4 1027.9"/>
<path d="M537.0 995.0L462.4 1083.7"/>
<path d="M425.0 966.0L452.3 1081.3"/>
<path d="M425.0 966.0L525.9 992.1"/>
<path d="M537.0 995.0Q478.0 992.1 435.3 971.1"/>
<path d="M537.0 995.0Q475.0 1003.7 434.2 972.9"/>
<path d="M537.0 995.0L597.1 905.5"/>
<path d="M603.5 896.0Q581.9 953.3 545.4 987.2"/>
<path d="M720.0 866.5L614.6 893.2"/>
<path d="M720.0 866.5L793.6 901.1"/>
<path d="M720.0 866.5L653.5 952.4"/>
<path d="M719.0 931.0L635.6 1014.4"/>
<path d="M646.5 961.5L630.9 1011.5"/>
<path d="M753.5 988.0L638.6 1019.5"/>
<path d="M753.5 988.0Q788.0 1028.1 824.8 1047.2"/>
<path d="M835.0 1052.5Q800.5 1012.4 763.7 993.3"/>
<path d="M710.0 1062.0L637.9 1027.5"/>
<path d="M710.0 1062.0L748.0 1132.4"/>
<path d="M637.5 1110.0L628.8 1033.9"/>
<path d="M565.0 1156.5L622.6 1032.9"/>
<path d="M403.5 1140.0L553.6 1155.3"/>
<path d="M472.5 1180.5L457.2 1103.8"/>
<path d="M472.5 1180.5L444.4 1247.9"/>
<path d="M189.0 1213.5L278.4 1176.9"/>
<path d="M289.0 1172.5Q299.9 1205.6 303.3 1228.6"/>
<path d="M305.0 1240.0Q281.4 1209.9 286.7 1183.8"/>
<path d="M593.5 1267.5L638.7 1218.5"/>
<path d="M646.5 1210.0Q686.7 1229.0 715.1 1245.7"/>
<path d="M725.0 1251.5Q680.1 1241.4 654.9 1217.8"/>
</g>
<path d="M429.1 955.3L429.3 948.9L433.2 950.4Z M636.3 956.3L630.0 955.4L631.9 951.7Z M619.1 1014.6L613.3 1012.0L616.2 1009.0Z M434.4 959.4L438.1 954.2L440.5 957.6Z M707.5 930.6L701.4 932.4L701.6 928.2Z M618.2 1015.8L612.1 1014.0L614.5 1010.6Z M340.4 925.9L346.7 926.6L344.9 930.4Z M263.2 970.6L266.8 965.4L269.3 968.7Z M334.2 1051.9L327.9 1051.8L329.4 1047.9Z M262.7 985.0L268.6 987.3L265.9 990.5Z M261.9 985.8L267.6 988.7L264.5 991.6Z M250.3 988.4L250.3 994.7L246.3 993.4Z M333.7 1057.9L328.1 1060.9L327.4 1056.8Z M386.5 1027.9L382.7 1033.0L380.3 1029.6Z M338.2 1065.3L336.3 1071.3L332.9 1068.8Z M351.6 1065.4L356.7 1069.2L353.3 1071.6Z M406.9 1025.2L413.2 1025.1L411.9 1029.1Z M433.5 973.8L439.3 976.2L436.5 979.3Z M432.7 974.6L438.2 977.7L435.1 980.5Z M537.3 1006.5L539.6 1012.4L535.4 1012.5Z M617.4 1027.9L613.1 1032.6L611.1 1028.9Z M462.4 1083.7L464.7 1077.8L467.9 1080.5Z M452.3 1081.3L448.9 1076.0L453.0 1075.0Z M525.9 992.1L519.5 992.6L520.6 988.6Z M435.3 971.1L441.6 971.9L439.8 975.6Z M434.2 972.9L440.2 974.9L437.7 978.2Z M597.1 905.5L595.5 911.7L592.0 909.4Z M545.4 987.2L548.4 981.5L551.2 984.6Z M614.6 893.2L619.9 889.7L621.0 893.7Z M793.6 901.1L787.3 900.5L789.1 896.7Z M653.5 952.4L655.5 946.4L658.9 948.9Z M635.6 1014.4L638.4 1008.6L641.4 1011.6Z M630.9 1011.5L630.7 1005.2L634.7 1006.4Z M638.6 1019.5L643.8 1015.9L644.9 1019.9Z M824.8 1047.2L818.5 1046.3L820.4 1042.6Z M763.7 993.3L770.0 994.2L768.1 997.9Z M637.9 1027.5L644.2 1028.2L642.4 1032.0Z M748.0 1132.4L743.3 1128.1L747.0 1126.1Z M628.8 1033.9L631.6 1039.6L627.4 1040.1Z M622.6 1032.9L622.0 1039.2L618.2 1037.5Z M553.6 1155.3L547.4 1156.8L547.8 1152.6Z M457.2 1103.8L460.5 1109.3L456.4 1110.1Z M444.4 1247.9L444.8 1241.5L448.7 1243.2Z M278.4 1176.9L273.6 1181.1L272.0 1177.2Z M303.3 1228.6L300.4 1223.0L304.5 1222.4Z M286.7 1183.8L287.6 1190.1L283.5 1189.2Z M638.7 1218.5L636.2 1224.3L633.1 1221.4Z M715.1 1245.7L708.8 1244.4L711.0 1240.8Z M654.9 1217.8L660.7 1220.4L657.9 1223.5Z" fill="#111"/>
<circle cx="462.5" cy="867.5" r="11.0" fill="#20e620"/>
<circle cx="330.0" cy="921.0" r="11.0" fill="#20e620"/>
<circle cx="487.5" cy="922.0" r="11.0" fill="#20e620"/>
<circle cx="425.0" cy="966.0" r="11.0" fill="#20e620"/>
<circle cx="254.0" cy="977.5" r="11.0" fill="#20e620"/>
<circle cx="537.0" cy="995.0" r="11.0" fill="#20e620"/>
<circle cx="396.0" cy="1021.5" r="11.0" fill="#f41212"/>
<circle cx="345.0" cy="1056.0" r="11.0" fill="#f41212"/>
<circle cx="720.0" cy="866.5" r="11.0" fill="#20e620"/>
<circle cx="603.5" cy="896.0" r="11.0" fill="#20e620"/>
<circle cx="804.0" cy="906.0" r="11.0" fill="#f41212"/>
<circle cx="719.0" cy="931.0" r="11.0" fill="#20e620"/>
<circle cx="646.5" cy="961.5" r="11.0" fill="#20e620"/>
<circle cx="753.5" cy="988.0" r="11.0" fill="#20e620"/>
<circle cx="627.5" cy="1022.5" r="11.0" fill="#20e620"/>
<circle cx="835.0" cy="1052.5" r="11.0" fill="#f41212"/>
<circle cx="710.0" cy="1062.0" r="11.0" fill="#20e620"/>
<circle cx="220.0" cy="1076.5" r="11.0" fill="#f41212"/>
<circle cx="539.0" cy="1070.0" r="11.0" fill="#20e620"/>
<circle cx="455.0" cy="1092.5" r="11.0" fill="#f41212"/>
<circle cx="299.0" cy="1118.5" r="11.0" fill="#20e620"/>
<circle cx="403.5" cy="1140.0" r="11.0" fill="#20e620"/>
<circle cx="565.0" cy="1156.5" r="11.0" fill="#20e620"/>
<circle cx="289.0" cy="1172.5" r="11.0" fill="#f41212"/>
<circle cx="472.5" cy="1180.5" r="11.0" fill="#20e620"/>
<circle cx="189.0" cy="1213.5" r="11.0" fill="#f41212"/>
<circle cx="305.0" cy="1240.0" r="11.0" fill="#f41212"/>
<circle cx="440.0" cy="1258.5" r="11.0" fill="#20e620"/>
<circle cx="593.5" cy="1267.5" r="11.0" fill="#20e620"/>
<circle cx="637.5" cy="1110.0" r="11.0" fill="#20e620"/>
<circle cx="753.5" cy="1142.5" r="11.0" fill="#20e620"/>
<circle cx="646.5" cy="1210.0" r="11.0" fill="#20e620"/>
<circle cx="725.0" cy="1251.5" r="11.0" fill="#20e620"/>
<g font-family="'Liberation Sans',sans-serif" font-weight="700" font-size="8.5" text-anchor="middle" fill="#111">
<text x="462.5" y="870.5">Adrenergic signaling in cardiomyocytes</text>
<text x="330.0" y="924.0">Chemokine signaling pathway</text>
<text x="487.5" y="925.0">cGMP-PKG signaling pathway</text>
<text x="425.0" y="969.0">PI3K-Akt signaling pathway</text>
<text x="254.0" y="980.5">Leukocyte transendothelial migration</text>
<text x="537.0" y="998.0">Focal adhesion</text>
<text x="396.0" y="1024.5">Adherens junction</text>
<text x="345.0" y="1059.0">Cell adhesion molecules (CAMs)</text>
<text x="720.0" y="869.5">Dilated cardiomyopathy</text>
<text x="603.5" y="899.0">ECM−receptor interaction</text>
<text x="804.0" y="909.0">Renin−angiotensin system</text>
<text x="719.0" y="934.0">Vascular smooth muscle contraction</text>
<text x="646.5" y="964.5">Cardiac muscle contraction</text>
<text x="753.5" y="991.0">Salivary secretion</text>
<text x="627.5" y="1025.5">Calcium signaling pathway</text>
<text x="835.0" y="1055.5">Carbohydrate digestion and absorption</text>
<text x="710.0" y="1065.0">Gap junction</text>
<text x="220.0" y="1079.5">Systemic lupus erythematosus</text>
<text x="539.0" y="1073.0">Rap1 signaling pathway</text>
<text x="455.0" y="1095.5">Cell cycle</text>
<text x="299.0" y="1121.5">Malaria</text>
<text x="403.5" y="1143.0">Graft−versus−host disease</text>
<text x="565.0" y="1159.5">Natural killer cell−mediated cytotoxicity</text>
<text x="289.0" y="1175.5">Alanine, aspartate, and glutamate metabolism</text>
<text x="472.5" y="1183.5">Basal cell carcinoma</text>
<text x="189.0" y="1216.5">Protein digestion and absorption</text>
<text x="305.0" y="1243.0">Nicotinate and nicotinamide metabolism</text>
<text x="440.0" y="1261.5">Hedgehog signaling pathway</text>
<text x="593.5" y="1270.5">Melanogenesis</text>
<text x="637.5" y="1113.0">Insulin secretion</text>
<text x="753.5" y="1145.5">Neuroactive ligand−receptor interaction</text>
<text x="646.5" y="1213.0">Tyrosine metabolism</text>
<text x="725.0" y="1254.5">Phenylalanine metabolism</text>
</g>
</svg>
<div class="cap">
<div><b>Fig 3.</b> Differentially expressed mRNA in LUAD. The heatmap of top 200 differentially expressed mRNA in LUAD (A); read: upregulation in</div>
<div>LUAD, green: downregulation in LUAD. GO analysis of differentially expressed mRNA (B), BP: biological processes. KEGG pathway analyses</div>
<div>of differentially expressed mRNA (C). The relationship between enriched pathways was presented (D). Calcium signaling pathway, cell</div>
<div>adhesion molecules, PI3K-Akt signaling pathway, and focal adhesion were the core pathways enriched. Red: upregulated pathways in</div>
<div class="last">LUAD; green: downregulated pathways in LUAD.</div>
</div>
<svg width="1080" height="1434" viewBox="0 0 1080 1434" style="pointer-events:none">
<g>
<ellipse cx="852.5" cy="1382" rx="14" ry="11" fill="#fff" stroke="#ececec" stroke-width="0.8"/>
<path d="M842 1389L837.5 1394.5L846 1392Z" fill="#fff" stroke="#bbb" stroke-width="0.8"/>
<ellipse cx="866" cy="1390.3" rx="12.6" ry="11" fill="#fff" stroke="#8c8c8c" stroke-width="1"/>
<path d="M872 1399.5L876 1402.5L875 1398Z" fill="#fff" stroke="#999" stroke-width="0.8"/>
<circle cx="846.2" cy="1374.2" r="1" fill="#ccc"/><circle cx="857.9" cy="1374.2" r="1" fill="#ccc"/>
<circle cx="861.8" cy="1384.6" r="1" fill="#ccc"/><circle cx="870.8" cy="1384.6" r="1" fill="#ccc"/>
</g>
<text x="886" y="1396.8" font-family="'Liberation Sans','Noto Sans CJK SC',sans-serif" font-size="26.2" fill="#fff" stroke="#9a9a9a" stroke-width="1.4" paint-order="stroke" stroke-linejoin="round">上海生命基因</text>
</svg>
</body></html>
